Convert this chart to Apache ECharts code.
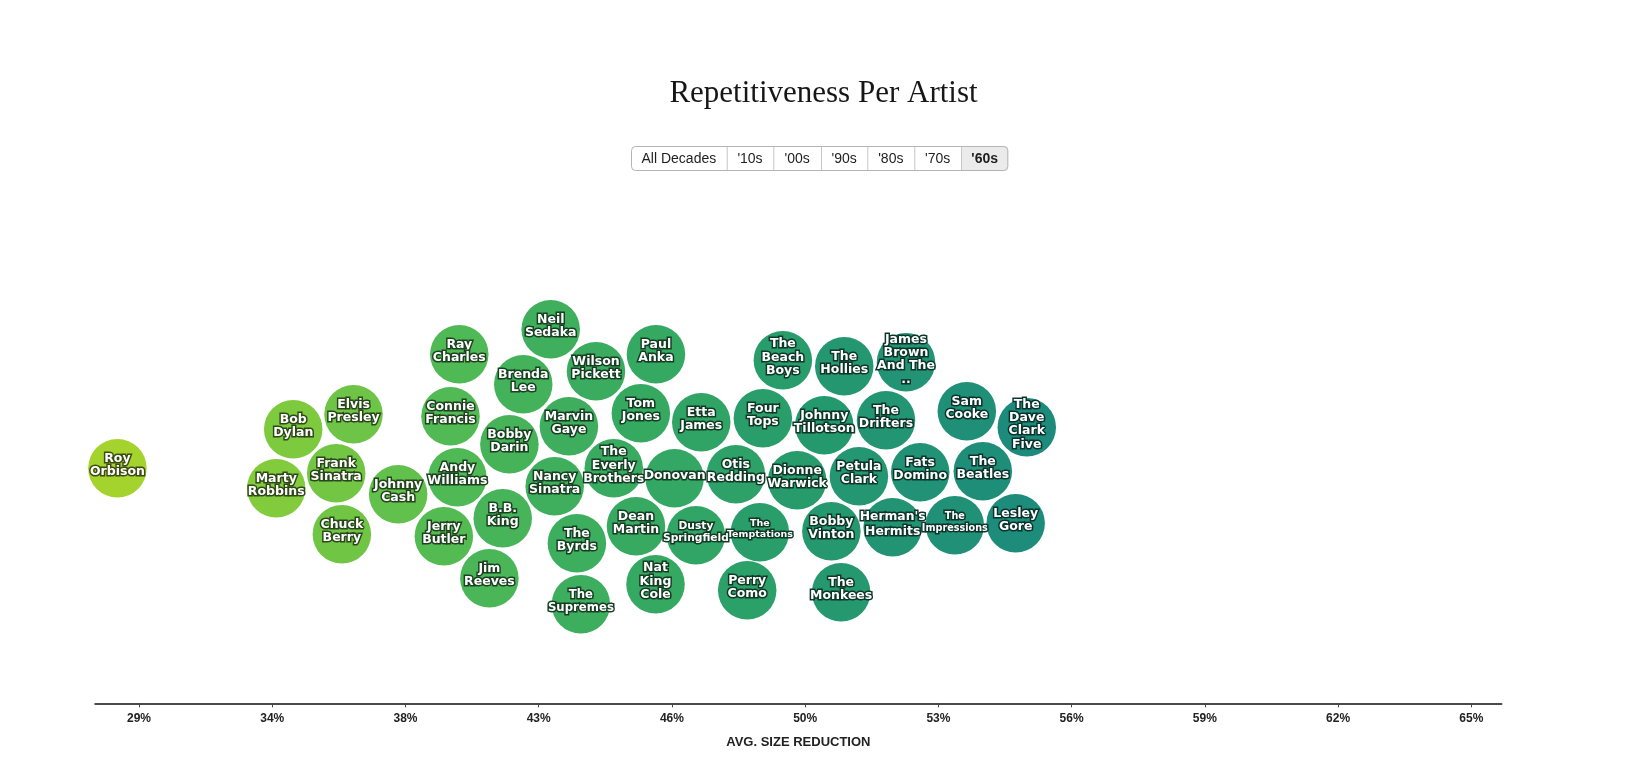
<!DOCTYPE html>
<html><head><meta charset="utf-8">
<script src="https://cdn.jsdelivr.net/npm/echarts@6/dist/echarts.min.js"></script>
<style>html,body{margin:0;padding:0;background:#fff}#chart{width:1647px;height:770px}</style>
</head><body><div id="chart"></div>
<script>
// ---------- data ----------
const tickLabels = [29, 34, 38, 43, 46, 50, 53, 56, 59, 62, 65];
const decades = ['All Decades', "'10s", "'00s", "'90s", "'80s", "'70s", "'60s"];
const selectedDecade = "'60s";

const artists = [
  'Roy\nOrbison','Bob\nDylan','Elvis\nPresley','Marty\nRobbins','Frank\nSinatra','Chuck\nBerry','Johnny\nCash',
  'Ray\nCharles','Connie\nFrancis','Andy\nWilliams','Jerry\nButler','Jim\nReeves','Bobby\nDarin','Neil\nSedaka',
  'Brenda\nLee','Wilson\nPickett','Paul\nAnka','Marvin\nGaye','Tom\nJones','Etta\nJames','Four\nTops',
  'The\nBeach\nBoys','The\nHollies','James\nBrown\nAnd The\n..','Johnny\nTillotson','The\nDrifters','Sam\nCooke',
  'The\nDave\nClark\nFive','B.B.\nKing','Nancy\nSinatra','The\nEverly\nBrothers','Donovan','Otis\nRedding',
  'Dionne\nWarwick','Petula\nClark','Fats\nDomino','The\nBeatles','The\nByrds','Dean\nMartin','Dusty\nSpringfield',
  'The\nTemptations','Bobby\nVinton',"Herman's\nHermits",'The\nImpressions','Lesley\nGore','The\nSupremes',
  'Nat\nKing\nCole','Perry\nComo','The\nMonkees'
];
// average size reduction (%)
const sizeReduction = [
  28.19, 34.63, 36.44, 34.12, 35.92, 36.09, 37.78,
  40.02, 39.69, 39.95, 39.44, 41.15, 41.90, 43.27,
  42.42, 44.29, 45.64, 43.68, 45.30, 46.88, 48.73,
  49.33, 50.88, 52.27, 50.43, 51.82, 53.64,
  54.99, 41.65, 43.36, 44.69, 46.08, 47.92,
  49.76, 51.21, 52.59, 54.00, 43.86, 45.19, 46.72,
  48.64, 50.59, 51.97, 53.37, 54.74, 43.95,
  45.63, 48.26, 50.81
];
// beeswarm vertical offset (collision layout)
const swarmOffset = [
  0, 39, 54, -20, -5, -66, -26,
  114, 52, -9, -68, -110, 24, 139,
  84, 97, 114, 42, 55, 46, 50,
  108, 102, 106, 43, 48, 57,
  41, -50, -18, 0, -10, -6,
  -12, -8, -4, -3, -75, -58, -67,
  -64, -63, -59, -57, -55, -136,
  -116, -122, -124
];

// ---------- helpers ----------
function pctToAxis(p) {
  const L = tickLabels;
  if (p <= L[1]) return (p - L[0]) / (L[1] - L[0]);
  for (let i = 1; i < L.length - 1; i++) if (p <= L[i + 1]) return i + (p - L[i]) / (L[i + 1] - L[i]);
  const n = L.length - 1;
  return n + (p - L[n]) / (L[n] - L[n - 1]);
}
const colorStops = [[28, [166, 211, 45]], [34.5, [127, 202, 62]], [40, [79, 185, 85]], [46, [51, 167, 99]], [50, [38, 154, 109]], [55, [29, 139, 124]]];
function colorFor(p) {
  let a = colorStops[0], b = colorStops[colorStops.length - 1];
  if (p <= a[0]) return a[1];
  if (p >= b[0]) return b[1];
  for (let i = 0; i < colorStops.length - 1; i++) {
    if (p >= colorStops[i][0] && p <= colorStops[i + 1][0]) { a = colorStops[i]; b = colorStops[i + 1]; break; }
  }
  const t = (p - a[0]) / (b[0] - a[0]);
  return a[1].map((v, k) => Math.round(v + (b[1][k] - v) * t));
}
const rgb = c => `rgb(${c[0]},${c[1]},${c[2]})`;
const dark = c => `rgb(${Math.round(c[0] * 0.36)},${Math.round(c[1] * 0.36)},${Math.round(c[2] * 0.36)})`;

const LABEL_FONT = '"DejaVu Sans", "Liberation Sans", sans-serif';
const BASE_FS = 12.5;
const mctx = document.createElement('canvas').getContext('2d');
mctx.font = 'bold ' + BASE_FS + 'px ' + LABEL_FONT;
function fitSize(name) {
  const w = Math.max(...name.split('\n').map(s => mctx.measureText(s).width));
  return w > 66 ? BASE_FS * 66 / w : BASE_FS;
}

const seriesData = artists.map((name, i) => {
  const c = colorFor(sizeReduction[i]);
  const fs = fitSize(name);
  return {
    name,
    value: [pctToAxis(sizeReduction[i]), swarmOffset[i], sizeReduction[i]],
    itemStyle: { color: rgb(c), opacity: 1 },
    label: { fontSize: fs, lineHeight: fs < BASE_FS ? fs + 1.8 : 13.3, textBorderColor: dark(c) }
  };
});

// ---------- buttons ----------
const btnX = 631, btnY = 146, btnH = 25;
const btnEdges = [0, 95.7, 142.3, 190, 236.3, 283.3, 330, 377.3];
const btnEls = [];
btnEls.push({ type: 'rect', shape: { x: 0, y: 0, width: btnEdges[7], height: btnH, r: 4 }, style: { fill: '#fff' } });
decades.forEach((d, i) => {
  if (d === selectedDecade) {
    btnEls.push({ type: 'rect', shape: { x: btnEdges[i], y: 0, width: btnEdges[i + 1] - btnEdges[i], height: btnH, r: i === decades.length - 1 ? [0, 4, 4, 0] : 0 }, style: { fill: '#ebebeb' } });
  }
});
btnEls.push({ type: 'rect', shape: { x: 0.5, y: 0.5, width: btnEdges[7] - 1, height: btnH - 1, r: 4 }, style: { fill: 'none', stroke: '#b4b4b4', lineWidth: 1 } });
for (let i = 1; i < decades.length; i++) {
  btnEls.push({ type: 'line', shape: { x1: btnEdges[i] + 0.5, y1: 1, x2: btnEdges[i] + 0.5, y2: btnH - 1 }, style: { stroke: '#c6c6c6', lineWidth: 1 } });
}
decades.forEach((d, i) => {
  btnEls.push({ type: 'text', x: (btnEdges[i] + btnEdges[i + 1]) / 2, y: btnH / 2 + 0.5,
    style: { text: d, align: 'center', verticalAlign: 'middle', fill: '#1e1e1e',
      font: (d === selectedDecade ? 'bold ' : '') + '14px "Liberation Sans", Arial, sans-serif' } });
});

// ---------- chart ----------
const chart = echarts.init(document.getElementById('chart'), null, { renderer: 'canvas' });
const axisMin = -0.3303, axisMax = 10.228;
const tickIdx = tickLabels.map((_, i) => i);
chart.setOption({
  animation: false,
  backgroundColor: '#fff',
  title: {
    text: 'Repetitiveness Per Artist', left: 'center', top: 73,
    textStyle: { fontFamily: '"Liberation Serif", serif', fontWeight: 'normal', fontSize: 31, color: '#161616' }
  },
  grid: { left: 95, right: 145.3, top: 200, bottom: 66.7 },
  xAxis: {
    type: 'value', min: axisMin, max: axisMax,
    name: 'AVG. SIZE REDUCTION', nameLocation: 'middle', nameGap: 33,
    nameTextStyle: { fontFamily: '"Liberation Sans", Arial, sans-serif', fontWeight: 'bold', fontSize: 13, color: '#222' },
    axisLine: { show: true, onZero: false, lineStyle: { color: '#111', width: 1.5 } },
    axisTick: { show: true, length: 4, customValues: tickIdx, lineStyle: { color: '#444', width: 1 } },
    axisLabel: {
      customValues: tickIdx, margin: 9,
      formatter: v => tickLabels[Math.round(v)] + '%',
      fontFamily: '"Liberation Sans", Arial, sans-serif', fontWeight: 'bold', fontSize: 12, color: '#222'
    },
    splitLine: { show: false }
  },
  yAxis: { type: 'value', min: -235, max: 268.3, show: false },
  series: [{
    type: 'scatter',
    symbol: 'circle',
    symbolSize: 58.5,
    clip: false,
    data: seriesData,
    itemStyle: { opacity: 1 },
    label: {
      show: true, position: 'inside', offset: [0, -3],
      formatter: p => p.name,
      color: '#fff', fontWeight: 'bold', fontFamily: LABEL_FONT,
      textBorderWidth: 3
    },
    emphasis: { disabled: true }
  }],
  graphic: [{ type: 'group', x: btnX, y: btnY, children: btnEls }]
});
</script></body></html>
